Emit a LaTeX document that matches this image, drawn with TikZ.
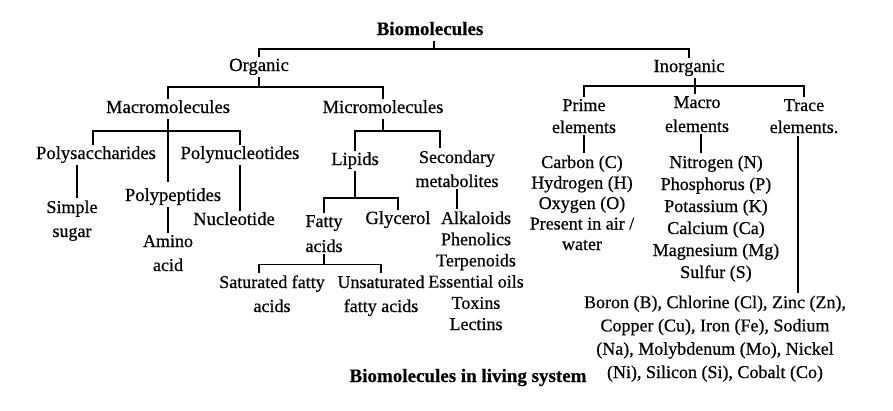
\documentclass[tikz,border=0pt]{standalone}
\usepackage{fontspec}
\setmainfont{Liberation Serif}[FakeBold=0.5]
\newfontfamily\capfont{Liberation Serif Bold}
\begin{document}
\begin{tikzpicture}[x=1pt,y=-1pt, line width=1.5pt,
  lbl/.style={inner sep=1.5pt, font=\fontsize{18.6}{22}\selectfont, text height=12pt, text depth=4pt, anchor=base},
  ml/.style={inner sep=1.5pt, align=center, anchor=base, font=\fontsize{18}{#1}\selectfont},
  ml/.default=22,
  ttl/.style={inner sep=1.5pt, font=\fontsize{19}{22}\selectfont\bfseries, text height=12pt, text depth=4pt, anchor=base}]
\useasboundingbox[fill=white] (0,0) rectangle (893,410);
% nodes (multi-line nodes are placed by the baseline of their last line)
\node[ttl] (bio) at (430,35) {Biomolecules};
\node[lbl] (org) at (259,71) {Organic};
\node[lbl] (inorg) at (689,72) {Inorganic};
\node[lbl] (macro) at (168,113) {Macromolecules};
\node[lbl] (micro) at (383,113) {Micromolecules};
\node[lbl] (polysac) at (96,159) {Polysaccharides};
\node[lbl] (polynuc) at (240,159) {Polynucleotides};
\node[lbl] (polypep) at (173,201) {Polypeptides};
\node[ml=24] (simple) at (72,237) {Simple\\sugar};
\node[ml=24] (amino) at (168,271) {Amino\\acid};
\node[lbl] (nucleo) at (234,225) {Nucleotide};
\node[lbl] (lipids) at (355,165) {Lipids};
\node[ml=24] (second) at (457,187) {Secondary\\metabolites};
\node[ml=25] (fatty) at (324,252) {Fatty\\acids};
\node[lbl] (glyc) at (398,224) {Glycerol};
\node[ml=24] (sat) at (272,312) {Saturated fatty\\acids};
\node[ml=24] (unsat) at (381,312) {Unsaturated\\fatty acids};
\node[ml=21.2] (seclist) at (476,330) {Alkaloids\\Phenolics\\Terpenoids\\Essential oils\\Toxins\\Lectins};
\node[ml=22] (prime) at (584,133) {Prime\\elements};
\node[ml=24] (macroel) at (697,132) {Macro\\elements};
\node[ml=22] (trace) at (804,133) {Trace\\elements.};
\node[ml=20.5] (primelist) at (582,250) {Carbon (C)\\Hydrogen (H)\\Oxygen (O)\\Present in air /\\water};
\node[ml=22] (macrolist) at (716,278) {Nitrogen (N)\\Phosphorus (P)\\Potassium (K)\\Calcium (Ca)\\Magnesium (Mg)\\Sulfur (S)};
\node[ml=23.3] (tracelist) at (715,378) {Boron (B), Chlorine (Cl), Zinc (Zn),\\Copper (Cu), Iron (Fe), Sodium\\(Na), Molybdenum (Mo), Nickel\\(Ni), Silicon (Si), Cobalt (Co)};
\node[ttl] (caption) at (468,382) {Biomolecules in living system};
% connectors
\draw ([xshift=4pt]bio.south) -- ++(0,7.5) -| (org.north);
\draw ([xshift=4pt]bio.south) ++(0,7.5) -| (inorg.north);
\draw (org.south) -- ++(0,9.5) -| (macro.north);
\draw (org.south) ++(0,9.5) -| (micro.north);
\draw[shorten >=5pt] (macro.south) -- (macro.south |- polypep.north);
\draw (macro.south) ++(0,11.5) -| ([xshift=-3pt]polysac.north);
\draw (macro.south) ++(0,11.5) -| (polynuc.north);
\draw ([xshift=5pt]simple.north) -- ([xshift=5pt]simple.north |- polysac.south);
\draw (amino.north) -- (amino.north |- polypep.south);
\draw (polynuc.south) -- (polynuc.south |- nucleo.north);
\draw (micro.south) -- ++(0,11.5) -| (lipids.north);
\draw (micro.south) ++(0,11.5) -| ([xshift=-17pt]second.north);
\draw (lipids.south) -- ++(0,26.5) -| (fatty.north);
\draw (lipids.south) ++(0,26.5) -| (glyc.north);
\draw (fatty.south) -- ++(0,10) -| ([xshift=-13pt]sat.north);
\draw (fatty.south) ++(0,10) -| (unsat.north);
\draw (second.south) -- (second.south |- seclist.north);
\draw ([xshift=6pt]inorg.south) -- ([xshift=6pt]inorg.south |- macroel.north);
\draw ([xshift=6pt]inorg.south) ++(0,7.5) -| (prime.north);
\draw ([xshift=6pt]inorg.south) ++(0,7.5) -| (trace.north);
\draw (prime.south) -- (prime.south |- primelist.north);
\draw ([xshift=4pt]macroel.south) -- ([xshift=4pt]macroel.south |- macrolist.north);
\draw ([xshift=-6pt]trace.south) -- ([xshift=-6pt]trace.south |- tracelist.north);
\end{tikzpicture}
\end{document}
